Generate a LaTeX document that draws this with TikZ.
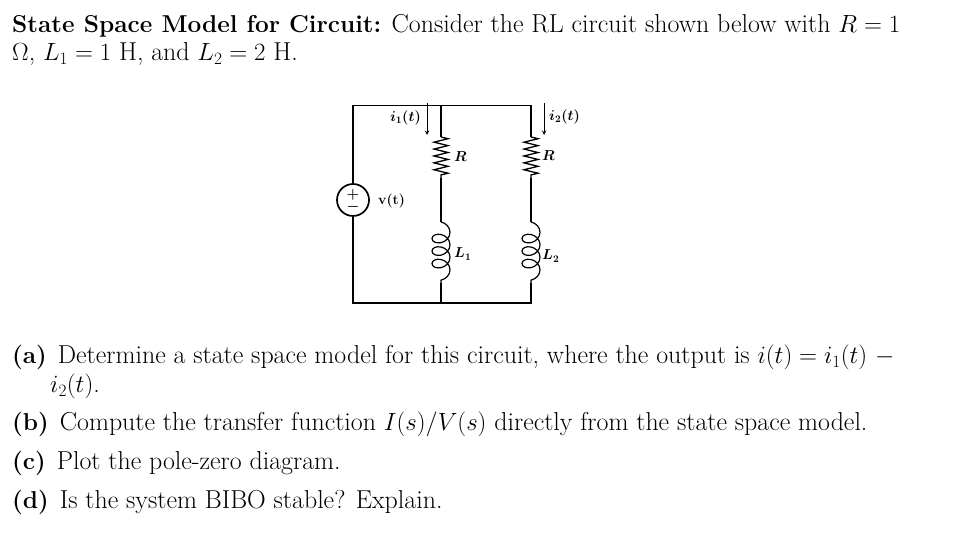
\documentclass[tikz,border=0pt]{standalone}
\usepackage{amsmath}
\usetikzlibrary{decorations.pathmorphing}
\newcommand{\hd}[1]{{\fontsize{24.4}{29}\selectfont\bfseries #1}\hspace{11pt}}
\tikzset{
  txt/.style={anchor=base west,inner sep=0pt,font=\fontsize{25.9}{29}\selectfont},
  lbl/.style={inner sep=0pt,font=\fontsize{14}{18}\selectfont\bfseries\boldmath},
  wire/.style={line width=1.7pt},
  res/.style={line width=1.3pt,decorate,decoration={zigzag,segment length=6.9pt,amplitude=7pt}},
  ind/.style={line width=1.2pt,decorate,decoration={coil,aspect=0.8,segment length=12.5pt,amplitude=9pt}},
  cur/.style={->,>=stealth,line width=1pt}
}
\begin{document}
\begin{tikzpicture}[x=1pt,y=1pt]
  \useasboundingbox (0,0) rectangle (968,535);
  \fill [white] (0,0) rectangle (968,535);
  % text above the circuit
  \node [txt] (title) at (12,502) {{\fontsize{24.4}{29}\selectfont\bfseries State Space Model for Circuit:} Consider the RL circuit shown below with $R=1$};
  \node [txt] (title2) at (12,474) {$\Omega$, $L_1=1$ H, and $L_2=2$ H.};
  % circuit
  \coordinate (tl) at (353,429.5);
  \coordinate (tm) at (441,429.5);
  \coordinate (tr) at (531,429.5);
  \coordinate (bl) at (353,232);
  \coordinate (bm) at (441,232);
  \coordinate (br) at (531,232);
  \coordinate (ra) at (441,398);
  \coordinate (rb) at (441,357);
  \coordinate (la) at (441,313);
  \coordinate (lb) at (441,252);
  \coordinate (sa) at (531,398);
  \coordinate (sb) at (531,357);
  \coordinate (ma) at (531,313);
  \coordinate (mb) at (531,252);
  \node [circle,draw,line width=1.7pt,minimum size=32pt,inner sep=0pt,fill=white] (src) at (353,335) {};
  \node [lbl] (plus) at (353,340.5) {$+$};
  \node [lbl] (minus) at (353,328.5) {$-$};
  \draw [wire] (src) -- (tl) -- (tr) -- (sa);
  \draw [wire] (src) -- (bl) -- (br) -- (mb);
  \draw [wire] (tm) -- (ra);
  \draw [wire] (bm) -- (lb);
  \draw [line width=1.3pt] (rb) -- (la);
  \draw [line width=1.3pt] (sb) -- (ma);
  \draw [res] (ra) -- (rb);
  \draw [res] (sa) -- (sb);
  \draw [ind] (la) -- (lb);
  \draw [ind] (ma) -- (mb);
  \node [lbl,anchor=west] (vt) at (378,334) {v(t)};
  \node [lbl,anchor=east] (ione) at (421,417) {$i_1(t)$};
  \node [lbl,anchor=west] (itwo) at (549,418) {$i_2(t)$};
  \coordinate (ia) at (427,432);
  \coordinate (ib) at (427,400);
  \coordinate (ja) at (544,432);
  \coordinate (jb) at (544,400);
  \draw [cur] (ia) -- (ib);
  \draw [cur] (ja) -- (jb);
  \node [lbl,anchor=west] (rone) at (454,378) {$R$};
  \node [lbl,anchor=west] (rtwo) at (542,379) {$R$};
  \node [lbl,anchor=west] (lone) at (454,281) {$L_1$};
  \node [lbl,anchor=west] (ltwo) at (542,279) {$L_2$};
  % questions
  \node [txt] (qa) at (12,171) {\hd{(a)}Determine a state space model for this circuit, where the output is $i(t)=i_1(t)\ -$};
  \node [txt] (qa2) at (50,142) {$i_2(t)$.};
  \node [txt] (qb) at (12,104) {\hd{(b)}Compute the transfer function $I(s)/V(s)$ directly from the state space model.};
  \node [txt] (qc) at (12,65) {\hd{(c)}Plot the pole-zero diagram.};
  \node [txt] (qd) at (12,27) {\hd{(d)}Is the system BIBO stable? Explain.};
\end{tikzpicture}
\end{document}
